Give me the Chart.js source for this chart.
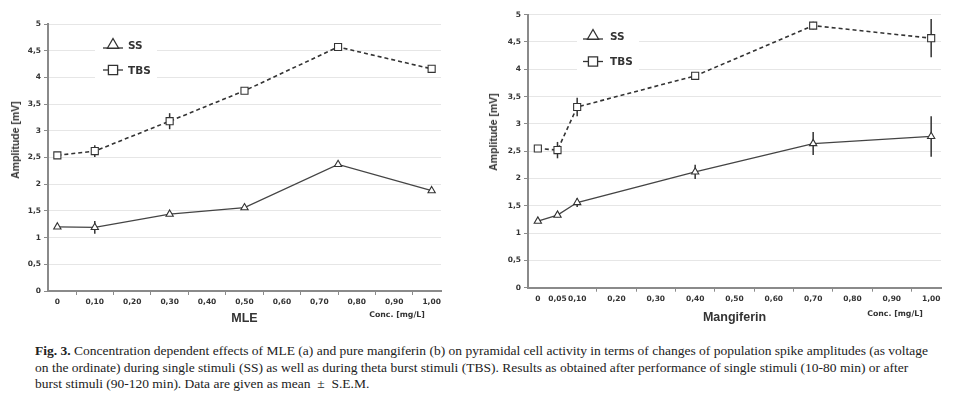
<!DOCTYPE html>
<html>
<head>
<meta charset="utf-8">
<script src="https://cdn.jsdelivr.net/npm/chart.js@4.4.1/dist/chart.umd.min.js"></script>
<style>
  body { margin: 0; background: #fff; }
  #page { position: relative; width: 960px; height: 399px; overflow: hidden; background: #fff; }
  .pane { position: absolute; top: 0; width: 480px; height: 330px; }
  .ytitle { position: absolute; font: bold 10.5px "Liberation Sans", Arial, sans-serif; color: #333;
            transform: translate(-50%, -50%) rotate(-90deg); white-space: nowrap; }
  .conc { position: absolute; font: bold 7.8px "DejaVu Sans", sans-serif; color: #333;
          transform: translate(-50%, -50%); white-space: nowrap; }
  #caption { position: absolute; left: 35px; top: 343px; font: 13.5px "Liberation Serif", serif;
             line-height: 16.5px; color: #222; white-space: nowrap; }
</style>
</head>
<body>
<div id="page">
  <div class="pane" style="left:0"><canvas id="mle" width="480" height="330"></canvas></div>
  <div class="pane" style="left:480px"><canvas id="mang" width="480" height="330"></canvas></div>
  <div class="ytitle" style="left:15px;top:140px">Amplitude [mV]</div>
  <div class="ytitle" style="left:493px;top:132px">Amplitude [mV]</div>
  <div class="conc" style="left:397px;top:314px">Conc. [mg/L]</div>
  <div class="conc" style="left:895px;top:313px">Conc. [mg/L]</div>
  <div id="caption"><b>Fig. 3.</b> Concentration dependent effects of MLE (a) and pure mangiferin (b) on pyramidal cell activity in terms of changes of population spike amplitudes (as voltage<br>on the ordinate) during single stimuli (SS) as well as during theta burst stimuli (TBS). Results as obtained after performance of single stimuli (10-80 min) or after<br>burst stimuli (90-120 min). Data are given as mean &nbsp;±&nbsp; S.E.M.</div>
</div>
<script>
// (a) MLE
const mleConc = [0, 0.10, 0.30, 0.50, 0.75, 1.00];
const mleSS = [1.20, 1.19, 1.44, 1.56, 2.37, 1.88];
const mleSSErr = [0.02, 0.12, 0.03, 0.03, 0.03, 0.02];
const mleTBS = [2.54, 2.62, 3.18, 3.75, 4.57, 4.16];
const mleTBSErr = [0.02, 0.11, 0.15, 0.03, 0.03, 0.06];
const mleTicks = [0, 0.05, 0.10, 0.15, 0.20, 0.25, 0.30, 0.35, 0.40, 0.45, 0.50, 0.55, 0.60, 0.65, 0.70, 0.75, 0.80, 0.85, 0.90, 0.95, 1.00];
const mleTickLabels = ['0', '', '0,10', '', '0,20', '', '0,30', '', '0,40', '', '0,50', '', '0,60', '', '0,70', '', '0,80', '', '0,90', '', '1,00'];

// (b) Mangiferin
const mangConc = [0, 0.05, 0.10, 0.40, 0.70, 1.00];
const mangSS = [1.22, 1.33, 1.56, 2.12, 2.64, 2.77];
const mangSSErr = [0.03, 0.04, 0.08, 0.13, 0.21, 0.37];
const mangTBS = [2.55, 2.52, 3.31, 3.88, 4.80, 4.57];
const mangTBSErr = [0.02, 0.15, 0.17, 0.03, 0.07, 0.35];
const mangTicks = [0, 0.05, 0.10, 0.15, 0.20, 0.25, 0.30, 0.35, 0.40, 0.45, 0.50, 0.55, 0.60, 0.65, 0.70, 0.75, 0.80, 0.85, 0.90, 0.95, 1.00];
const mangTickLabels = ['0', '0,05', '0,10', '', '0,20', '', '0,30', '', '0,40', '', '0,50', '', '0,60', '', '0,70', '', '0,80', '', '0,90', '', '1,00'];

const yTicks = [0, 0.5, 1, 1.5, 2, 2.5, 3, 3.5, 4, 4.5, 5];
const yTickLabels = ['0', '0,5', '1', '1,5', '2', '2,5', '3', '3,5', '4', '4,5', '5'];

const seriesNames = ['SS', 'TBS'];

const ink = '#333';
const axisGrey = '#8a8a8a';

function pts(xs, ys) {
    return xs.map((x, i) => ({ x: x, y: ys[i] }));
}

function marker(ctx, style, x, y, r) {
    ctx.beginPath();
    if (style === 'triangle') {
        ctx.moveTo(x, y - r);
        ctx.lineTo(x + 0.866 * r, y + 0.5 * r);
        ctx.lineTo(x - 0.866 * r, y + 0.5 * r);
        ctx.closePath();
    } else {
        const s = r * Math.SQRT1_2;
        ctx.rect(x - s, y - s, 2 * s, 2 * s);
    }
    ctx.fill();
    ctx.stroke();
}

// vertical S.E.M. bars, drawn under the markers
const errorBars = {
    id: 'errorBars',
    beforeDatasetsDraw(chart) {
        const { ctx, scales: { x, y } } = chart;
        ctx.save();
        ctx.strokeStyle = ink;
        ctx.lineWidth = 1.5;
        chart.data.datasets.forEach(ds => {
            ds.errors.forEach((e, j) => {
                const p = ds.data[j];
                const px = x.getPixelForValue(p.x);
                ctx.beginPath();
                ctx.moveTo(px, y.getPixelForValue(p.y - e));
                ctx.lineTo(px, y.getPixelForValue(p.y + e));
                ctx.stroke();
            });
        });
        ctx.restore();
    }
};

// boxed legend inside the plot area
const boxLegend = {
    id: 'boxLegend',
    afterDatasetsDraw(chart, args, opts) {
        const ctx = chart.ctx;
        ctx.save();
        ctx.fillStyle = '#fff';
        ctx.fillRect(opts.box[0], opts.box[1], opts.box[2], opts.box[3]);
        chart.data.datasets.forEach((ds, i) => {
            const y = opts.rows[i];
            ctx.strokeStyle = ink;
            ctx.lineWidth = 1.3;
            ctx.setLineDash([]);
            ctx.beginPath();
            ctx.moveTo(opts.mx - 10, y + (i === 0 ? 3 : 0));
            ctx.lineTo(opts.mx + 10, y + (i === 0 ? 3 : 0));
            ctx.stroke();
            ctx.fillStyle = '#fff';
            marker(ctx, ds.pointStyle, opts.mx, y, 6.5);
            ctx.fillStyle = ink;
            ctx.font = 'bold 10.5px "DejaVu Sans", sans-serif';
            ctx.textBaseline = 'middle';
            ctx.fillText(ds.label, opts.tx, y + 1);
        });
        ctx.restore();
    }
};

function build(id, conc, ss, ssErr, tbs, tbsErr, ticks, tickLabels, title, pad, xH, titlePad, legend) {
    return new Chart(document.getElementById(id), {
        type: 'line',
        data: {
            datasets: [
                {
                    label: seriesNames[0], data: pts(conc, ss), errors: ssErr,
                    borderColor: '#444', borderWidth: 1.3, pointStyle: 'triangle',
                    pointRadius: 4.2, pointBorderWidth: 1.1, pointBorderColor: ink, pointBackgroundColor: '#fff'
                },
                {
                    label: seriesNames[1], data: pts(conc, tbs), errors: tbsErr,
                    borderColor: ink, borderWidth: 1.6, borderDash: [4, 3], pointStyle: 'rect',
                    pointRadius: 5, pointBorderWidth: 1.1, pointBorderColor: ink, pointBackgroundColor: '#fff'
                }
            ]
        },
        options: {
            responsive: false,
            animation: false,
            devicePixelRatio: 1,
            layout: { padding: pad },
            plugins: { legend: { display: false }, tooltip: { enabled: false }, boxLegend: legend },
            scales: {
                x: {
                    type: 'linear', min: -0.025, max: 1.025,
                    afterBuildTicks: s => { s.ticks = ticks.map(v => ({ value: v })); },
                    afterFit: s => { s.height = xH; },
                    border: { color: axisGrey, width: 2 },
                    grid: {
                        drawOnChartArea: false, tickLength: 4,
                        tickColor: c => tickLabels[c.index] ? 'rgba(0,0,0,0)' : axisGrey
                    },
                    ticks: {
                        autoSkip: false, maxRotation: 0, padding: 3, color: ink,
                        font: { family: 'DejaVu Sans', weight: 'bold', size: 7.5 },
                        callback: (v, i) => tickLabels[i]
                    },
                    title: {
                        display: true, text: title, color: ink,
                        font: { family: 'Liberation Sans', weight: 'bold', size: 12.5 },
                        padding: { top: 0, bottom: titlePad }
                    }
                },
                y: {
                    min: 0, max: 5,
                    afterBuildTicks: s => { s.ticks = yTicks.map(v => ({ value: v })); },
                    afterFit: s => { s.width = 48; },
                    border: { color: axisGrey, width: 2 },
                    grid: { color: '#e6e6e6', lineWidth: 1, tickLength: 4, tickColor: axisGrey },
                    ticks: {
                        padding: 3, color: ink,
                        font: { family: 'DejaVu Sans', weight: 'bold', size: 7.5 },
                        callback: (v, i) => yTickLabels[i]
                    }
                }
            }
        },
        plugins: [errorBars, boxLegend]
    });
}

build('mle', mleConc, mleSS, mleSSErr, mleTBS, mleTBSErr, mleTicks, mleTickLabels, 'MLE',
      { top: 24, right: 39, left: 0, bottom: 0 }, 39, 4,
      { box: [95, 35, 62, 45], rows: [45, 70], mx: 113, tx: 128 });

build('mang', mangConc, mangSS, mangSSErr, mangTBS, mangTBSErr, mangTicks, mangTickLabels, 'Mangiferin',
      { top: 14.7, right: 19, left: 0, bottom: 0 }, 42.3, 5,
      { box: [97, 25, 62, 45], rows: [36, 61.5], mx: 113, tx: 130 });
</script>
</body>
</html>
